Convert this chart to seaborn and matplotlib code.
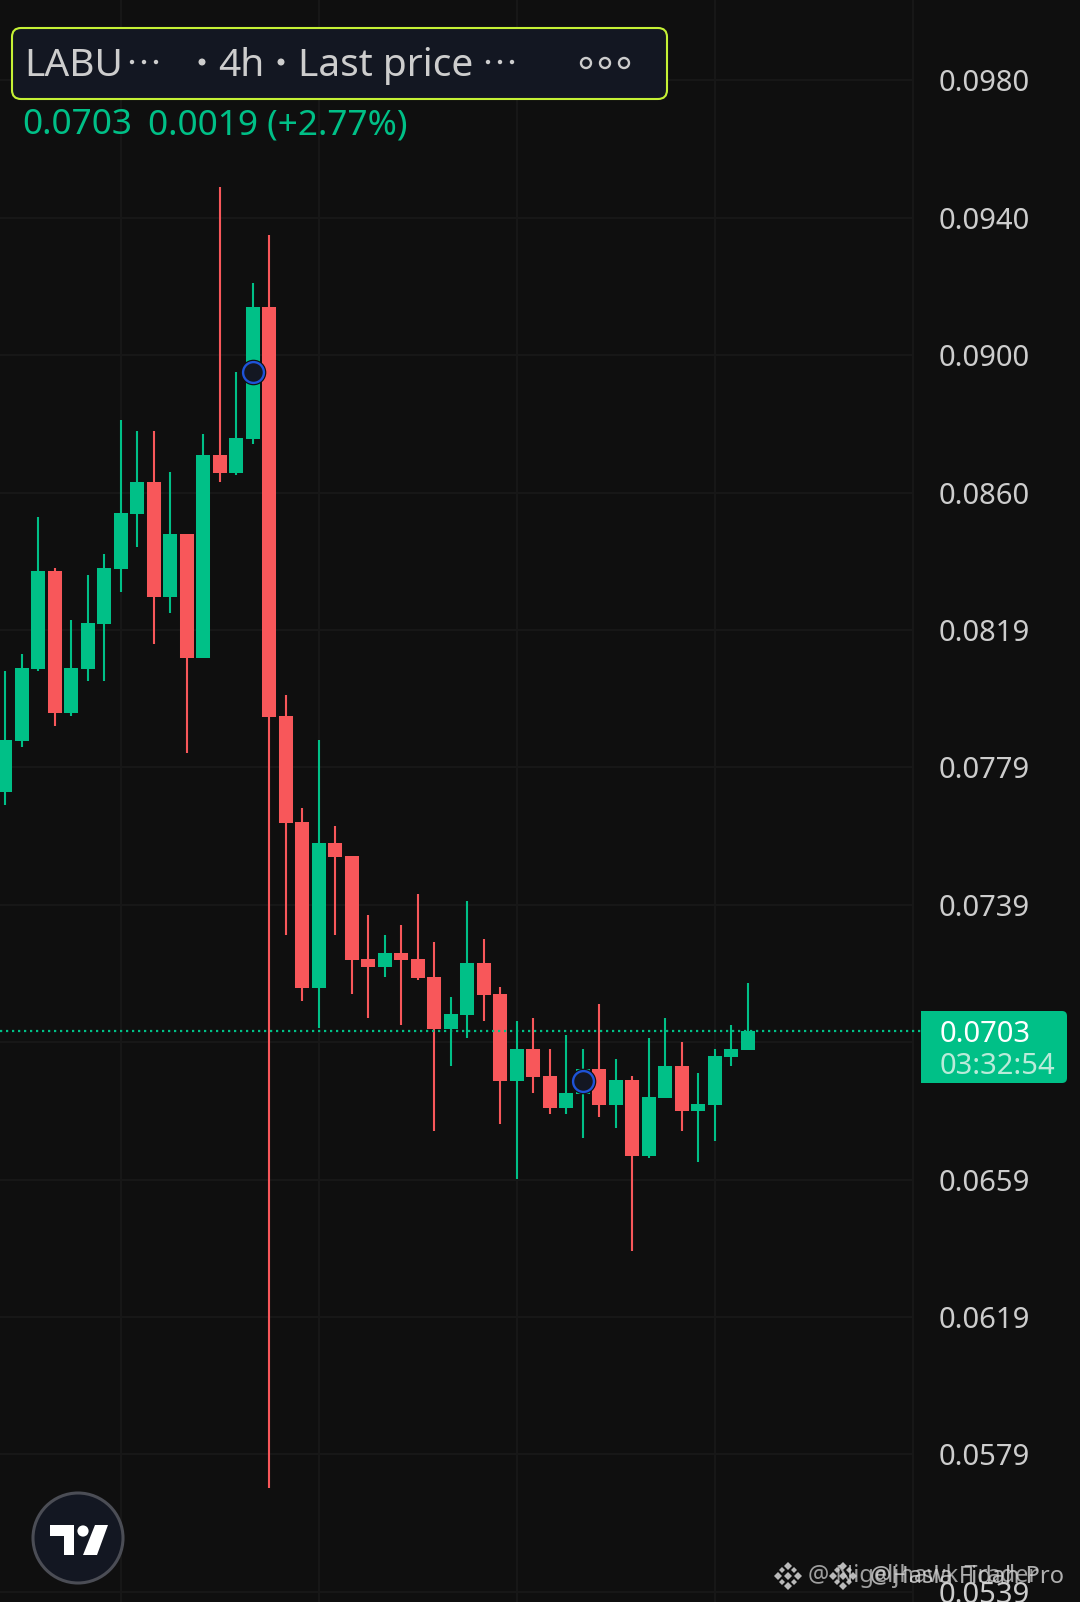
import numpy as np
import pandas as pd
import seaborn as sns
from matplotlib import pyplot as plt
from matplotlib.patches import Circle, FancyBboxPatch, Polygon, Rectangle

# candles, oldest first
candle_open = [.077242, .078730, .080832, .083692, .079548, .080832, .082145, .083750, .085355, .086289,
               .082933, .084772, .081153, .087077, .086552, .087544, .091397, .079460, .076366, .071522,
               .075754, .075374, .072368, .072135, .072543, .072368, .071843, .070325, .070734, .072251,
               .071347, .068808, .069741, .068953, .068020, .068428, .069158, .068107, .068837, .066619,
               .068311, .069245, .067932, .068107, .069508, .069712]
candle_close = [.078760, .080861, .083692, .079548, .080861, .082174, .083779, .085385, .086289, .082933,
                .084772, .081153, .087077, .086552, .087574, .091397, .079431, .076337, .071522, .075754,
                .075345, .072339, .072135, .072543, .072339, .071814, .070325, .070763, .072251, .071317,
                .068808, .069741, .068924, .068020, .068457, .069158, .068107, .068837, .066619, .068341,
                .069245, .067932, .068136, .069537, .069741, .070267]
candle_high = [.080773, .081270, .085268, .083779, .082262, .083575, .084188, .088099, .087778, .087778,
               .086581, .084772, .087690, .094899, .089500, .092097, .093498, .080073, .076775, .078760,
               .076250, .075374, .073652, .073069, .073360, .074265, .072864, .071259, .074061, .072952,
               .071551, .070559, .070646, .069741, .070150, .069741, .071055, .069450, .068953, .070063,
               .070646, .069946, .069041, .069741, .070442, .071668]
candle_low = [.076863, .078555, .080773, .079168, .079460, .080482, .080482, .083079, .084392, .081561,
              .082466, .078380, .081153, .086289, .086494, .087398, .056929, .073069, .071142, .070354,
              .073069, .071347, .070646, .071843, .070442, .071755, .067348, .069245, .070063, .070559,
              .067553, .065947, .068457, .067844, .067844, .067144, .067757, .067436, .063846, .066560,
              .068311, .067348, .066444, .067056, .069245, .069712]

tick_prices = [.09801, .09400, .08999, .08598, .08197, .07796, .07395, .06994, .06593, .06192, .05791, .05390]
tick_labels = ["0.0980", "0.0940", "0.0900", "0.0860", "0.0819", "0.0779", "0.0739", "",
               "0.0659", "0.0619", "0.0579", "0.0539"]
time_grid = [7, 19, 31, 43]
marker_idx = [15, 35]
marker_price = [.089500, .068808]
last_price = .07027

BG = "#0f0f0f"
GRID = "#181818"
GREEN = "#00c087"
RED = "#f8575a"
TEXT = "#cdcdcd"

sns.set_theme(style="dark", rc={"axes.facecolor": BG, "figure.facecolor": BG})
plt.rcParams["font.family"] = ["Noto Sans", "Roboto", "DejaVu Sans"]

W, H = 1080, 1602
AXIS_X = 913
fig = plt.figure(figsize=(W / 100, H / 100), dpi=100)
ax = fig.add_axes([0, 0, AXIS_X / W, 1])


def long_form(first, second):
    n = len(first)
    side = ["up" if c >= o else "down" for o, c in zip(candle_open, candle_close)]
    return pd.DataFrame({
        "idx": list(range(n)) * 2,
        "candle": list(range(n)) * 2,
        "price": list(first) + list(second),
        "side": side * 2,
    }).sort_values("candle", kind="stable")


colors = {"up": GREEN, "down": RED}
sns.lineplot(data=long_form(candle_low, candle_high), x="idx", y="price", hue="side", units="candle",
             estimator=None, sort=False, palette=colors, linewidth=1.5, solid_capstyle="butt", legend=False, ax=ax)
sns.lineplot(data=long_form(candle_open, candle_close), x="idx", y="price", hue="side", units="candle",
             estimator=None, sort=False, palette=colors, linewidth=10.1, solid_capstyle="butt", legend=False, ax=ax)

# the two blue event markers
marks = pd.DataFrame({"idx": marker_idx, "price": marker_price})
sns.scatterplot(data=marks, x="idx", y="price", s=340, color="#101010", linewidth=0, ax=ax, zorder=5)
sns.scatterplot(data=marks, x="idx", y="price", s=225, color="#131722", edgecolor="#1e53d8", linewidth=1.7,
                ax=ax, zorder=6)

ax.axhline(last_price, xmax=(AXIS_X + 8) / AXIS_X, color=GREEN, linewidth=1.6, linestyle=(0, (1, 1.7)),
           clip_on=False, zorder=4)

# pixel scale of the screenshot
ax.set_xlim(-5 / 16.5, (AXIS_X - 5) / 16.5)
ax.set_ylim(0.1003565 - H * 2.9185e-5, 0.1003565)
ax.set_xticks(time_grid)
ax.set_xticklabels([])
ax.set_yticks(tick_prices)
ax.set_yticklabels(tick_labels)
ax.yaxis.tick_right()
ax.tick_params(axis="y", length=0, pad=18.8, labelsize=21, labelcolor=TEXT)
ax.tick_params(axis="x", length=0)
ax.set_xlabel("")
ax.set_ylabel("")
ax.grid(True, color=GRID, linewidth=1.4)
ax.set_axisbelow(True)
for name, spine in ax.spines.items():
    spine.set_visible(name == "right")
    spine.set_color(GRID)
    spine.set_linewidth(1.4)

# overlay in screen pixels for the app furniture
ov = fig.add_axes([0, 0, 1, 1])
ov.set_xlim(0, W)
ov.set_ylim(H, 0)
ov.axis("off")
ov.patch.set_alpha(0)

# header pill
ov.add_patch(FancyBboxPatch((20, 36), 639, 55, boxstyle="round,pad=8,rounding_size=9",
                            facecolor="#131722", edgecolor="#c5f135", linewidth=1.5))
header = [(24, "LABU"), (218, "4h"), (298, "Last price")]
for x, s in header:
    ov.text(x, 66, s, color=TEXT, fontsize=28, va="center", ha="left")
for x in [132, 144, 156, 202, 281, 488, 500, 512]:
    big = x in (202, 281)
    ov.add_patch(Circle((x, 62), 2.8 if big else 1.5, color=TEXT))
for x in [586, 605, 624]:
    ov.add_patch(Circle((x, 63), 5, facecolor="none", edgecolor=TEXT, linewidth=1.7))

ov.text(22, 125, "0.0703", color=GREEN, fontsize=25.3, va="center", ha="left")
ov.text(148, 125, "0.0019 (+2.77%)", color=GREEN, fontsize=25.3, va="center", ha="left")

# last price badge
ov.add_patch(FancyBboxPatch((926, 1016), 136, 62, boxstyle="round,pad=5,rounding_size=5",
                            facecolor=GREEN, edgecolor="none"))
ov.add_patch(Rectangle((921, 1011), 20, 72, facecolor=GREEN, edgecolor="none"))
ov.text(940, 1035, "0.0703", color="white", fontsize=21, va="center", ha="left")
ov.text(940, 1067, "03:32:54", color="#b9ebd9", fontsize=21, va="center", ha="left")

# tradingview logo
ov.add_patch(Circle((78, 1538), 45, facecolor="#131722", edgecolor="#4b4d55", linewidth=2.2))
ov.add_patch(Polygon([(50, 1525), (74, 1525), (74, 1555), (64, 1555), (64, 1536), (50, 1536)], color="white", lw=0))
ov.add_patch(Polygon([(95, 1525), (108, 1525), (97, 1555), (83, 1555)], color="white", lw=0))
ov.add_patch(Circle((83, 1531), 5.6, color="white", lw=0))


# binance diamond of the watermark
def diamond(cx, cy):
    for dx, dy, r in [(0, 0, 4), (-10, 0, 4), (10, 0, 4), (0, -10, 4), (0, 10, 4), (-6, -6, 3), (6, -6, 3), (-6, 6, 3), (6, 6, 3)]:
        ov.add_patch(Polygon([(cx + dx - r, cy + dy), (cx + dx, cy + dy - r), (cx + dx + r, cy + dy), (cx + dx, cy + dy + r)],
                             color="#d8d8d8", alpha=0.85, lw=0))


diamond(788, 1576)
diamond(843, 1576)
ov.text(808, 1576, "@ Nigeljhawk Trader", color="#d0d0d0", alpha=0.75, fontsize=17, va="center", ha="left")
ov.text(870, 1576, "@Hasla Fidah Pro", color="#d8d8d8", alpha=0.8, fontsize=17, va="center", ha="left")

fig.savefig("out.png", dpi=100, facecolor=BG)
